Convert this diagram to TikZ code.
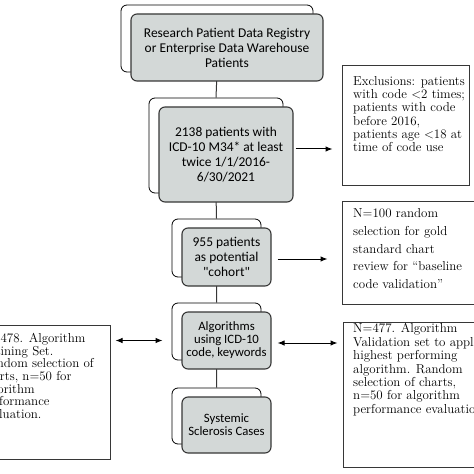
\documentclass[tikz,border=0pt]{standalone}
\usepackage{fontspec}
\usetikzlibrary{arrows.meta}
\newfontfamily\boxfont{Carlito}
\definecolor{boxgray}{RGB}{211,216,215}
\definecolor{edgegray}{RGB}{55,55,55}
\begin{document}
\begin{tikzpicture}
  [x=1bp,y=-1bp,>={Latex[length=7bp,width=5.5bp]},
   stage/.style={draw=edgegray,line width=1.1bp,fill=boxgray,rounded corners=6bp,
     inner sep=1bp,align=center,font=\boxfont\fontsize{13.5}{15}\selectfont},
   stageback/.style={draw=black,line width=0.8bp,fill=white,rounded corners=6bp},
   note/.style={draw=edgegray,line width=1bp,fill=white},
   notetext/.style={anchor=north west,inner sep=0pt,align=left,
     font=\fontsize{13}{13.4}\selectfont}]
  \useasboundingbox (0,0) rectangle (474,474);
  \clip (0,0) rectangle (474,474);

  % back copies of the stages
  \node[stageback,minimum width=192bp,minimum height=67bp] (b1back) at (217,38.5) {};
  \node[stageback,minimum width=134bp,minimum height=95bp] (b2back) at (216,145.5) {};
  \node[stageback,minimum width=89bp,minimum height=58bp] (b3back) at (216.5,248) {};
  \node[stageback,minimum width=89bp,minimum height=57bp] (b4back) at (216.5,331.5) {};
  \node[stageback,minimum width=89bp,minimum height=56bp] (b5back) at (216.5,416) {};

  \path[draw,line width=1bp,edgegray]
        (b1back.south) -- (b2back.north)
        (b2back.south) -- (b3back.north)
        (b3back.south) -- (b4back.north)
        (b4back.south) -- (b5back.north);

  % stages
  \node[stage,minimum width=192bp,minimum height=67bp] (b1) at (227,47.5)
    {Research Patient Data Registry\\or Enterprise Data Warehouse\\Patients};
  \node[stage,minimum width=134bp,minimum height=95bp] (b2) at (226,154.5)
    {2138 patients with\\ICD-10 M34* at least\\twice 1/1/2016-\\6/30/2021};
  \node[stage,minimum width=89bp,minimum height=58bp] (b3) at (226.5,257)
    {955 patients\\as potential\\"cohort"};
  \node[stage,minimum width=89bp,minimum height=57bp,
        font=\boxfont\fontsize{12.8}{13}\selectfont] (b4) at (226.5,340.5)
    {Algorithms\\using ICD-10\\code, keywords};
  \node[stage,minimum width=89bp,minimum height=56bp,
        font=\boxfont\fontsize{12.8}{13}\selectfont] (b5) at (226.5,425)
    {Systemic\\Sclerosis Cases};

  % side notes
  \node[note,minimum width=127bp,minimum height=120bp] (excl) at (405.5,126) {};
  \node[notetext] (excltext) at (353,76)
    {Exclusions: patients\\with code <2 times;\\patients with code\\before 2016,\\patients age <18 at\\time of code use};
  \node[note,minimum width=158bp,minimum height=102bp] (gold) at (421,253) {};
  \node[notetext,font=\fontsize{13}{18}\selectfont] (goldtext) at (353,208)
    {N=100 random\\selection for gold\\standard chart\\review for “baseline\\code validation”};
  \node[note,minimum width=157bp,minimum height=145bp] (valid) at (421.5,394.5) {};
  \node[notetext] (validtext) at (353,323.5)
    {N=477. Algorithm\\Validation set to apply\\highest performing\\algorithm. Random\\selection of charts,\\n=50 for algorithm\\performance evaluation.};
  \node[note,minimum width=140bp,minimum height=134bp] (train) at (40,392) {};
  \node[notetext,font=\fontsize{13}{12.7}\selectfont] (traintext) at (-19,333)
    {N=478. Algorithm\\Training Set.\\Random selection of\\charts, n=50 for\\algorithm\\performance\\evaluation.};

  \draw[->,line width=1bp,shorten >=9bp]
    ([xshift=2bp,yshift=5.5bp]b2.east) -- ([yshift=5.5bp]b2.east -| excl.west);
  \draw[->,line width=1bp,shorten >=14bp]
    ([xshift=6bp,yshift=-2bp]b3.east) -- ([yshift=-2bp]b3.east -| gold.west);
  \draw[<->,line width=1bp,shorten >=5bp]
    ([xshift=6bp,yshift=-2.5bp]b4.east) -- ([yshift=-2.5bp]b4.east -| valid.west);
  \draw[<->,line width=1bp,shorten >=9bp]
    ([xshift=5bp]train.east |- b4.west) -- (b4back.west |- b4.west);
\end{tikzpicture}
\end{document}
